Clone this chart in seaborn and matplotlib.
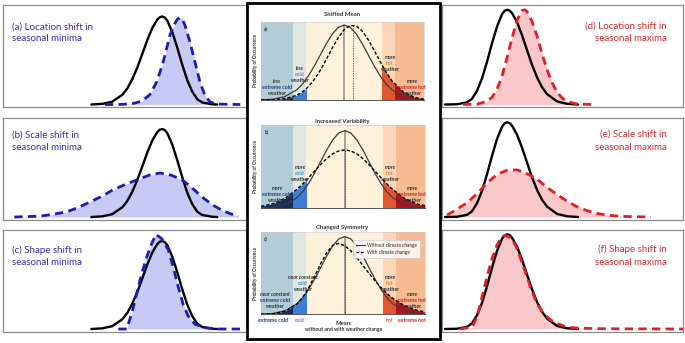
import matplotlib
matplotlib.use("Agg")
import matplotlib.pyplot as plt
from matplotlib.patches import Rectangle
from matplotlib.lines import Line2D
import seaborn as sns

sns.set_style("white")
plt.rcParams["font.family"] = ["Lato", "DejaVu Sans"]

W, H = 685, 343

# ---------------- side panels: x in units from the reference mode, y = density ----------------
# reference distribution (black), seasonal maxima (right-skewed)
x_black_max = [-3.1, -2.5, -2.0, -1.75, -1.5, -1.25, -1.0, -0.75, -0.5, -0.25, -0.125, 0.0,
               0.125, 0.25, 0.5, 0.75, 1.0, 1.25, 1.5, 1.75, 2.0, 2.5, 3.0, 3.55]
y_black_max = [0.0, 0.001, 0.009, 0.024, 0.058, 0.110, 0.180, 0.258, 0.329, 0.381, 0.395, 0.400,
               0.397, 0.386, 0.348, 0.293, 0.230, 0.168, 0.115, 0.073, 0.044, 0.013, 0.003, 0.0]
# reference distribution (black), seasonal minima (left-skewed)
x_black_min = [-3.55, -3.0, -2.5, -2.0, -1.75, -1.5, -1.25, -1.0, -0.75, -0.5, -0.25, -0.125,
               0.0, 0.125, 0.25, 0.5, 0.75, 1.0, 1.25, 1.5, 1.75, 2.0, 2.5, 2.75]
y_black_min = [0.0, 0.003, 0.013, 0.044, 0.073, 0.115, 0.168, 0.230, 0.293, 0.348, 0.386, 0.397,
               0.400, 0.395, 0.381, 0.329, 0.258, 0.180, 0.110, 0.058, 0.024, 0.009, 0.001, 0.0]

# (a) location shift, minima
x_blue_loc = [-2.87, -2.2, -1.53, -1.03, -0.62, -0.28, 0.0, 0.22, 0.38, 0.63, 0.75, 0.88,
              1.0, 1.13, 1.38, 1.63, 1.88, 2.13, 2.38, 2.72, 3.9]
y_blue_loc = [0.0, 0.0, 0.003, 0.015, 0.045, 0.103, 0.179, 0.255, 0.315, 0.368, 0.387, 0.395,
              0.387, 0.361, 0.285, 0.194, 0.103, 0.042, 0.012, 0.002, 0.0]
# (b) scale shift, minima
x_blue_scale = [-7.4, -6.1, -5.5, -4.8, -4.2, -3.6, -3.0, -2.5, -1.8, -1.2, -0.6, -0.1,
                0.45, 1.0, 1.35, 1.7, 2.1, 2.55, 3.0, 3.4, 3.8]
y_blue_scale = [0.0, 0.004, 0.012, 0.023, 0.043, 0.069, 0.095, 0.122, 0.150, 0.171, 0.192, 0.200,
                0.190, 0.168, 0.143, 0.115, 0.083, 0.053, 0.030, 0.015, 0.003]
# (c) shape shift, minima
x_blue_shape = [-2.2, -1.78, -1.53, -1.28, -1.03, -0.78, -0.53, -0.32, -0.03, 0.3, 0.55, 0.8,
                1.05, 1.3, 1.63, 2.13, 2.8, 3.97]
y_blue_shape = [0.0, 0.0, 0.070, 0.161, 0.252, 0.327, 0.388, 0.430, 0.411, 0.360, 0.280, 0.190,
                0.110, 0.058, 0.022, 0.006, 0.0, 0.0]

# (d) location shift, maxima
x_red_loc = [-2.2, -1.5, -1.0, -0.75, -0.5, -0.25, 0.0, 0.25, 0.5, 0.75, 0.9, 1.0, 1.25, 1.5,
             1.75, 2.0, 2.25, 2.5, 2.75, 3.0, 3.5, 4.3]
y_red_loc = [0.0, 0.001, 0.014, 0.030, 0.064, 0.120, 0.197, 0.280, 0.355, 0.397, 0.400, 0.392,
             0.351, 0.289, 0.215, 0.147, 0.093, 0.053, 0.028, 0.013, 0.002, 0.0]
# (e) scale shift, maxima
x_red_scale = [-3.0, -2.5, -2.0, -1.5, -1.0, -0.5, 0.0, 0.5, 1.0, 1.5, 2.0, 2.5, 3.0, 3.5,
               4.0, 4.5, 5.0, 5.5, 6.0, 7.2]
y_red_scale = [0.008, 0.033, 0.060, 0.098, 0.143, 0.180, 0.197, 0.199, 0.183, 0.160, 0.125,
               0.095, 0.067, 0.043, 0.027, 0.015, 0.008, 0.004, 0.002, 0.0]
# (f) shape shift, maxima
x_red_shape = [-2.35, -1.75, -1.5, -1.25, -1.0, -0.75, -0.5, -0.25, -0.08, 0.25, 0.5, 0.83,
               1.17, 1.5, 1.83, 2.17, 2.5, 3.0, 3.67, 5.0, 8.8]
y_red_shape = [0.0, 0.008, 0.051, 0.135, 0.220, 0.297, 0.354, 0.389, 0.396, 0.382, 0.339, 0.262,
               0.177, 0.107, 0.065, 0.039, 0.023, 0.008, 0.003, 0.001, 0.0]

labels_min = ["(a) Location shift in", "(b) Scale shift in", "(c) Shape shift in"]
labels_max = ["(d) Location shift in", "(e) Scale shift in", "(f) Shape shift in"]

# ---------------- centre (IPCC style) panels ----------------
x_center = [-3.5, -3.0, -2.5, -2.0, -1.75, -1.5, -1.25, -1.0, -0.75, -0.5, -0.25, 0.0,
            0.25, 0.5, 0.75, 1.0, 1.25, 1.5, 1.75, 2.0, 2.5, 3.0, 3.35]
y_without = [0.001, 0.004, 0.018, 0.054, 0.086, 0.130, 0.183, 0.242, 0.301, 0.352, 0.387, 0.399,
             0.387, 0.352, 0.301, 0.242, 0.183, 0.130, 0.086, 0.054, 0.018, 0.004, 0.002]
y_shifted = [0.000, 0.002, 0.007, 0.025, 0.044, 0.072, 0.111, 0.160, 0.218, 0.278, 0.333, 0.375,
             0.397, 0.394, 0.368, 0.323, 0.266, 0.206, 0.150, 0.102, 0.040, 0.012, 0.004]
y_wider = [0.010, 0.023, 0.051, 0.097, 0.126, 0.159, 0.193, 0.226, 0.256, 0.280, 0.295, 0.300,
           0.295, 0.280, 0.256, 0.226, 0.193, 0.159, 0.126, 0.097, 0.051, 0.023, 0.013]
y_skewed = [0.001, 0.003, 0.016, 0.052, 0.088, 0.138, 0.198, 0.262, 0.317, 0.355, 0.364, 0.352,
            0.326, 0.291, 0.252, 0.212, 0.174, 0.139, 0.108, 0.082, 0.044, 0.021, 0.012]
mean_with = [0.35, 0.0, 0.0]
band_edges = [-3.5, -2.15, -1.6, 1.6, 2.15, 3.35]
band_colors = ["#b2cdd7", "#dde7e4", "#fef2da", "#fcd6b8", "#f7bb94"]
tail_fills = ["#1b2d5b", "#3b7dd8", None, "#e2582e", "#b5121b"]
center_titles = ["Shifted Mean", "Increased Variability", "Changed Symmetry"]
center_tags = ["a)", "b)", "c)"]

fig = plt.figure(figsize=(W / 100, H / 100), dpi=100)


def px_axes(x0, y0, x1, y1):
    return fig.add_axes([x0 / W, 1 - y1 / H, (x1 - x0) / W, (y1 - y0) / H])


def ftext(x, y, s, **kw):
    kw.setdefault("ha", "center")
    kw.setdefault("va", "center")
    fig.text(x / W, 1 - y / H, s, **kw)


DASH = (0, (3, 1.9))

# ---------------- side panels ----------------
box_tops = [5.5, 118, 230]
left_curves = [(x_blue_loc, y_blue_loc), (x_blue_scale, y_blue_scale), (x_blue_shape, y_blue_shape)]
right_curves = [(x_red_loc, y_red_loc), (x_red_scale, y_red_scale), (x_red_shape, y_red_shape)]
label_rows = [(26.7, 38.5), (135, 147), (250, 262.7)]

for i, top in enumerate(box_tops):
    for side in ["min", "max"]:
        if side == "min":
            ax = px_axes(3, top, 247, top + 102)
            bx, by = x_black_min, y_black_min
            dx, dy = left_curves[i]
            col, fcol = "#1c1cb4", "#c8caf6"
            ax.set_xlim(-7.965, 4.235)
            ax.set_ylim(-0.0136, 0.45)
        else:
            ax = px_axes(442, top, 683, top + 102)
            bx, by = x_black_max, y_black_max
            dx, dy = right_curves[i]
            col, fcol = "#e41e26", "#fac8cb"
            ax.set_xlim(-3.25, 8.8)
            ax.set_ylim(-0.0127, 0.418)
        ax.fill_between(dx, dy, 0, color=fcol, lw=0, zorder=1)
        sns.lineplot(x=bx, y=by, ax=ax, color="black", lw=1.7, errorbar=None, zorder=3)
        sns.lineplot(x=dx, y=dy, ax=ax, color=col, lw=2.0, linestyle=DASH,
                     errorbar=None, zorder=4)
        ax.set(xticks=[], yticks=[], xlabel="", ylabel="")
        for sp in ax.spines.values():
            sp.set_color("#8c8c8c")
            sp.set_linewidth(0.9)

    y1, y2 = label_rows[i]
    ftext(12, y1, labels_min[i], ha="left", color="#3030b0", fontsize=7)
    ftext(12, y2, "seasonal minima", ha="left", color="#3030b0", fontsize=7)
    ftext(667, y1 - 1, labels_max[i], ha="right", color="#d42a2a", fontsize=7)
    ftext(667, y2, "seasonal maxima", ha="right", color="#d42a2a", fontsize=7)

# ---------------- centre panels ----------------
center_boxes = [(261, 21.7, 424, 100), (261, 125, 425, 208.3), (261, 231.7, 425, 314.3)]
center_ytops = [0.417, 0.428, 0.424]
center_with = [y_shifted, y_wider, y_skewed]
title_y = [15, 121.7, 227.7]

for i, (x0, y0, x1, y1) in enumerate(center_boxes):
    ax = px_axes(x0, y0, x1, y1)
    for lo, hi, c in zip(band_edges[:-1], band_edges[1:], band_colors):
        ax.axvspan(lo, hi, color=c, lw=0, zorder=0)
    for lo, hi, c in zip(band_edges[:-1], band_edges[1:], tail_fills):
        if c is None:
            continue
        poly = ax.fill_between(x_center, center_with[i], 0, color=c, lw=0, zorder=1)
        poly.set_clip_path(Rectangle((lo, 0), hi - lo, 1, transform=ax.transData))
    peak = max(y_without)
    ax.plot([0, 0], [0, peak], color="#8a8a8a", lw=1.1, zorder=2)
    ax.plot([mean_with[i], mean_with[i]], [0, max(center_with[i])], color="#333333",
            lw=0.6, linestyle=(0, (1, 1)), zorder=2)
    sns.lineplot(x=x_center, y=y_without, ax=ax, color="#3c3c3c", lw=0.9, errorbar=None, zorder=3)
    sns.lineplot(x=x_center, y=center_with[i], ax=ax, color="black", lw=1.0,
                 linestyle=(0, (2.4, 1.4)), errorbar=None, zorder=4)
    ax.set_xlim(band_edges[0], band_edges[-1])
    ax.set_ylim(0, center_ytops[i])
    ax.set(xticks=[], yticks=[], xlabel="", ylabel="")
    for sp in ax.spines.values():
        sp.set_color("#c8c8c8")
        sp.set_linewidth(0.4)
    ax.spines["bottom"].set_color("#555555")
    ax.spines["bottom"].set_linewidth(0.7)
    ax.text(0.02, 0.94, center_tags[i], transform=ax.transAxes, fontsize=3.6,
            fontweight="bold", color="#333333", va="top")
    ftext(342, title_y[i], center_titles[i], fontsize=4.3, fontweight="bold", color="#333333")
    ftext(255.5, (y0 + y1) / 2, "Probability of Occurrence", fontsize=3.3, rotation=90,
          fontweight="bold", color="#333333")
    if i == 2:
        handles = [Line2D([], [], color="#3c3c3c", lw=0.9),
                   Line2D([], [], color="black", lw=0.9, linestyle=(0, (2.2, 1.4)))]
        leg = ax.legend(handles, ["Without climate change", "With climate change"],
                        loc="upper right", bbox_to_anchor=(0.985, 0.93), fontsize=3.4,
                        frameon=True, handlelength=1.8, borderpad=0.6, labelspacing=0.5,
                        handletextpad=0.6, fancybox=False)
        leg.get_frame().set_linewidth(0.4)
        leg.get_frame().set_edgecolor("#bbbbbb")
        leg.set_zorder(6)

# annotations inside the centre panels
tfs = 3.7
dark, navy, lblue, orng, red = "#333333", "#1d3f73", "#4f8fd6", "#e8843a", "#d62020"


def stack(x, y, words, colors, styles):
    for k, (w, c, st) in enumerate(zip(words, colors, styles)):
        ftext(x, y + 5.9 * k, w, fontsize=tfs, color=c, fontweight="bold", fontstyle=st)


stack(277, 81.7, ["less", "extreme cold", "weather"], [dark, navy, dark], ["italic", "normal", "normal"])
stack(300, 68.3, ["less", "cold", "weather"], [dark, lblue, dark], ["italic", "normal", "normal"])
stack(390, 57.3, ["more", "hot", "weather"], [dark, orng, dark], ["italic", "normal", "normal"])
stack(412, 81.7, ["more", "extreme hot", "weather"], [dark, red, dark], ["italic", "normal", "normal"])

stack(300, 167.3, ["more", "cold", "weather"], [dark, lblue, dark], ["italic", "normal", "normal"])
stack(277, 188.3, ["more", "extreme cold", "weather"], [dark, navy, dark], ["italic", "normal", "normal"])
stack(390, 167.3, ["more", "hot", "weather"], [dark, orng, dark], ["italic", "normal", "normal"])
stack(412, 188.3, ["more", "extreme hot", "weather"], [dark, red, dark], ["italic", "normal", "normal"])

stack(303, 277.3, ["near constant", "cold", "weather"], [dark, lblue, dark], ["italic", "normal", "normal"])
stack(275, 295, ["near constant", "extreme cold", "weather"], [dark, navy, dark], ["italic", "normal", "normal"])
stack(390, 277.3, ["more", "hot", "weather"], [dark, orng, dark], ["italic", "normal", "normal"])
stack(412, 295, ["more", "extreme hot", "weather"], [dark, red, dark], ["italic", "normal", "normal"])

ftext(273, 320, "extreme cold", fontsize=tfs, color=navy, fontweight="bold")
ftext(300, 320, "cold", fontsize=tfs, color=lblue, fontweight="bold")
ftext(390, 320, "hot", fontsize=tfs, color="#e0603a", fontweight="bold")
ftext(412, 320, "extreme hot", fontsize=tfs, color=red, fontweight="bold")
ftext(344, 323.3, "Mean:", fontsize=4.2, color=dark, fontweight="bold")
ftext(344, 329.8, "without and with weather change", fontsize=tfs, color=dark, fontweight="bold")

# thick frame round the centre figure
fig.add_artist(Rectangle((246.5 / W, 1 - 338.5 / H), (439.5 - 246.5) / W, (338.5 - 2.5) / H,
                         transform=fig.transFigure, fill=False, lw=2.0, ec="black", zorder=10))

fig.savefig("out.png", dpi=100)
